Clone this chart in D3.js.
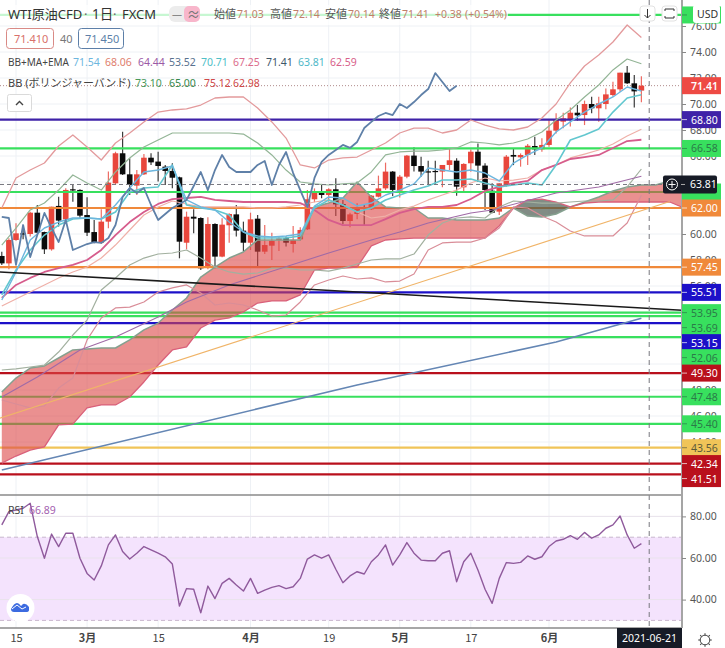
<!DOCTYPE html>
<html>
<head>
<meta charset="utf-8">
<script src="https://cdn.jsdelivr.net/npm/d3@7"></script>
<style>
  html, body { margin: 0; padding: 0; background: #fff; }
  svg { display: block; font-family: 'Noto Sans', 'Noto Sans CJK JP', sans-serif; }
</style>
</head>
<body>
<script>
// candles, bar -2 .. 88 (bar 0 = Feb 15)
const opens = [58.31,57.74,59.54,60.05,60.0,61.64,60.15,58.82,62.16,61.13,63.44,63.39,61.46,60.15,59.33,60.95,63.9,66.21,64.59,63.72,64.59,65.87,65.57,65.18,64.85,64.36,59.33,61.33,61.23,57.44,60.77,58.26,60.67,61.51,60.26,59.33,61.18,58.64,59.1,59.54,59.67,59.23,59.59,60.36,62.67,63.23,63.0,63.44,62.31,61.0,61.54,62.05,61.9,62.87,63.51,64.8,63.33,64.41,66.03,65.23,64.82,64.85,64.8,65.31,65.64,63.59,65.44,66.33,65.26,63.33,61.72,63.77,66.08,65.9,66.08,66.77,66.51,66.85,67.95,68.64,68.77,69.33,69.15,70.0,69.67,70.0,70.69,71.13,72.41,71.59,71.03];
const highs = [58.64,59.67,60.82,60.4,61.72,62.23,60.18,62.1,62.87,63.51,63.77,63.44,62.82,61.08,61.9,64.8,66.33,67.87,65.82,64.92,66.16,66.21,66.33,65.31,65.44,64.41,61.72,61.9,61.28,61.28,60.82,61.21,61.59,62.23,60.95,61.64,61.46,60.69,60.1,59.85,59.8,60.62,60.51,63.39,63.51,63.85,63.51,64.28,62.62,61.64,62.36,62.23,63.0,64.49,65.49,64.85,64.54,66.08,66.67,65.95,65.64,65.64,65.31,66.59,65.82,65.44,66.5,66.97,65.44,63.9,63.9,66.08,66.6,66.2,66.92,67.49,67.36,68.77,69.28,69.33,69.74,69.92,70.26,70.56,70.56,71.2,71.72,72.41,72.92,72.23,72.14];
const lows = [57.62,57.28,59.49,59.6,59.8,60.05,58.46,58.72,60.57,61.08,62.49,61.21,59.85,59.28,59.23,60.44,63.77,64.54,63.0,63.0,64.54,65.31,64.03,63.77,63.51,58.13,58.82,60.05,57.23,57.28,57.36,58.21,59.33,59.8,58.64,58.77,57.54,58.46,58.0,58.69,59.03,58.57,59.49,60.31,62.44,62.75,62.49,61.39,60.77,60.51,61.13,60.62,61.85,62.82,63.39,62.92,62.8,64.28,64.8,64.41,63.77,63.77,63.59,64.92,62.95,63.18,64.79,64.0,61.85,61.59,61.46,63.64,65.3,65.18,65.3,66.08,66.33,66.72,67.74,68.13,68.26,68.72,68.38,69.28,68.64,69.59,70.56,70.95,71.54,69.74,70.14];
const closes = [57.74,59.54,60.05,60.0,61.64,60.1,58.82,62.1,61.03,63.39,63.39,61.41,60.1,59.33,60.95,63.95,66.21,64.59,63.77,64.59,65.87,65.51,65.23,64.85,64.33,59.41,61.33,61.18,57.36,60.77,58.26,60.72,61.54,60.26,59.33,61.13,58.64,59.15,59.46,59.67,59.33,59.54,60.31,62.67,63.26,63.0,63.44,62.28,61.0,61.51,61.95,61.98,62.95,63.51,64.8,63.39,64.41,66.03,65.23,64.8,64.8,64.8,65.31,65.67,63.64,65.39,66.33,65.26,63.38,61.64,63.9,65.95,65.95,66.08,66.79,66.51,66.85,67.95,68.77,68.9,69.33,69.13,70.0,69.67,70.05,70.74,71.13,72.41,71.59,70.97,71.41];

// bands and averages, read every second bar from -2 to 88
const bbOuterUpper = [62.0,64.31,64.92,65.46,66.77,67.62,66.69,65.69,67.0,67.77,68.62,69.38,69.54,69.62,69.92,70.46,70.54,70.54,69.69,68.62,67.38,65.31,65.08,65.69,65.85,65.92,66.46,67.0,67.77,68.15,68.15,67.77,68.0,68.77,68.38,68.08,68.0,68.23,68.92,70.0,71.62,72.92,73.77,74.77,76.08,75.12];
const bbInnerUpper = [59.15,60.46,61.85,62.38,63.38,64.54,63.92,63.38,64.77,65.85,66.69,67.23,67.77,67.77,67.77,67.77,67.77,67.69,67.0,66.08,64.92,64.0,63.85,63.77,63.85,63.92,64.77,66.08,66.31,66.38,66.38,66.46,66.62,67.08,67.0,66.85,67.0,67.31,67.85,68.77,69.54,70.54,71.46,72.62,73.46,73.1];
const bbInnerLower = [49.54,49.62,49.77,49.92,50.92,52.23,53.38,55.69,56.62,57.62,58.15,58.46,58.54,58.77,58.15,57.46,57.08,56.92,57.0,57.38,57.38,57.23,57.23,57.15,57.38,57.69,58.0,58.08,58.08,58.46,59.92,60.85,61.23,61.31,61.23,62.08,62.54,62.46,62.38,62.38,62.46,62.54,62.54,62.62,63.62,65.0];
const bbOuterLower = [47.23,46.92,46.62,46.77,48.15,48.92,51.85,53.54,54.31,54.38,54.77,55.54,55.85,56.08,55.46,54.54,54.69,54.54,54.15,53.69,53.77,54.77,56.08,56.46,56.77,56.54,56.62,56.31,56.38,56.92,58.77,59.31,59.38,59.38,59.69,60.46,62.08,62.0,61.38,60.92,60.23,59.85,59.85,59.85,60.85,62.98];
const maPink = [55.08,56.08,56.62,57.08,57.38,57.62,58.0,58.77,59.92,60.92,61.69,62.31,62.69,62.77,62.85,62.62,62.54,62.46,62.46,62.46,62.46,62.38,61.85,61.08,60.69,60.69,60.69,61.15,61.62,61.92,62.08,62.08,62.23,62.69,63.31,63.62,63.92,64.08,64.92,65.31,65.77,65.92,66.08,66.62,67.15,67.25];
const maPeach = [54.46,55.0,55.54,56.08,56.62,57.08,57.46,58.15,59.15,60.31,61.46,62.08,62.54,62.31,62.08,62.08,62.08,62.08,62.0,62.0,62.08,62.23,62.46,62.62,62.23,61.69,61.23,61.38,61.85,62.15,62.62,63.0,63.38,63.92,64.31,64.08,64.15,64.31,64.92,65.31,65.85,66.15,66.46,66.92,67.54,68.06];
const emaFast = [54.92,57.08,59.54,60.46,60.92,61.23,61.23,61.15,62.23,63.54,64.77,64.92,65.23,62.62,62.08,61.85,60.92,60.15,59.85,59.77,59.85,60.0,62.15,62.85,62.77,62.15,62.38,63.0,63.38,63.85,65.08,64.92,64.77,64.92,64.69,64.08,65.46,66.08,66.62,67.85,68.62,69.38,70.0,70.54,71.31,71.0];
const emaSlow = [55.31,57.23,58.77,59.92,60.69,61.15,61.23,61.15,61.69,63.23,63.54,63.62,65.31,62.23,62.0,61.85,61.46,60.15,59.69,59.69,59.69,59.85,62.0,62.62,62.23,61.69,62.0,62.62,63.0,63.38,63.69,64.15,64.15,64.23,63.92,63.62,63.77,63.92,63.77,65.31,67.23,67.62,68.08,69.38,70.46,70.71];

// lagging line, bar -2 .. 62
const lagging = [61.31,61.23,57.62,60.69,58.23,59.92,61.62,60.46,59.38,61.08,58.77,59.0,59.23,59.38,59.31,59.69,60.69,62.85,63.54,63.15,63.54,62.23,61.08,61.54,62.0,62.31,62.62,63.69,64.77,63.38,64.92,66.08,65.15,64.77,64.77,64.77,65.31,65.62,63.77,65.31,66.31,64.69,63.38,62.08,64.31,65.54,66.08,66.46,66.85,66.62,67.08,68.15,68.62,69.08,69.31,69.15,70.0,69.69,70.15,70.69,71.15,72.38,71.69,71.0,71.41];

// cloud, every second bar from -2 to 94
const spanA = [47.85,48.92,49.69,49.85,50.46,51.08,51.15,51.23,51.23,51.85,52.62,53.15,54.15,55.08,56.69,57.46,58.15,58.62,59.54,59.54,59.54,59.54,62.08,62.38,62.77,64.0,62.85,62.08,62.0,62.0,61.23,61.23,61.08,61.08,61.08,61.23,62.0,61.38,61.31,61.54,62.08,62.46,62.85,63.31,63.62,63.77,63.77,64.08,64.46];
const spanB = [42.38,42.92,43.38,43.62,45.31,45.38,46.62,46.85,46.85,47.46,48.62,49.92,51.08,51.31,52.77,53.38,53.54,54.0,54.69,54.85,54.85,55.31,57.23,57.38,57.38,57.46,59.08,59.54,59.62,59.69,59.69,59.69,59.69,59.69,59.69,60.62,62.0,62.62,62.69,62.46,62.08,62.38,62.46,62.46,62.46,62.46,62.46,62.46,62.0];

// long average and drawn trend lines
const longMaBars = [-2,3,9,14,20,24,30,44,50,54,58,64,67,76,82,88];
const longMaValues = [47.46,49.0,51.08,52.08,53.62,54.77,56.08,58.54,59.54,60.15,60.85,61.62,61.85,63.15,63.62,64.44];
const longBlueBars = [-2,48,76,88];
const longBlueValues = [41.85,48.38,51.69,53.52];
const blackTrendBars = [-3,94];
const blackTrendValues = [57.1,54.13];
const goldTrendBars = [-3,92];
const goldTrendValues = [45.7,62.5];

// horizontal levels
const greenLevels = [76.85,66.58,63.23,53.95,53.69,52.06,47.48,45.40];
const blueLevels = [55.51,53.15];
const indigoLevels = [68.80];
const orangeLevels = [62.00,57.45];
const redLevels = [49.30,42.34,41.51];
const goldLevels = [43.56];

// rsi, bar -2 .. 88
const rsiValues = [75.9,82.3,83.1,83.9,86.3,70.3,59.9,71.5,65.5,71.9,71.9,59.9,52.6,49.4,56.2,66.3,71.1,63.1,59.5,62.3,65.5,63.9,62.3,60.6,57.1,36.9,45.3,45.0,33.7,46.5,40.5,47.8,50.2,47.0,44.1,50.2,43.0,44.6,45.9,46.7,45.3,46.2,50.2,59.5,61.5,59.9,61.5,54.6,48.1,51.4,53.4,52.3,58.2,61.5,66.3,56.6,61.5,67.4,62.3,59.0,58.7,58.7,62.3,63.5,48.6,58.2,62.3,54.2,45.0,38.2,50.2,57.8,57.4,57.9,61.0,59.4,60.6,65.5,68.2,69.0,70.7,69.0,72.3,69.5,71.1,74.3,75.9,80.2,71.1,64.7,66.89];

// axis labels
const priceTicks = [76,74,72,70,68,66,64,62,60,58,56,54,52,50,48,46,44];
const rsiTicks = [80,60,40];
const timeTickBars = [0,10,20,33,44,54,64,75];
const timeTickLabels = ['15','3月','15','4月','19','5月','17','6月'];

const width = 725, height = 648;
const axisX = 682, mainBottom = 495, rsiBottom = 628;
const numberFont = '10.5px';

const svg = d3.select('body').append('svg')
  .attr('width', width)
  .attr('height', height);

const x = d3.scaleLinear().domain([0, 75]).range([16, 549]);
const y = d3.scaleLinear().domain([70, 60]).range([104, 234]);
const yRsi = d3.scaleLinear().domain([60, 40]).range([558, 599.6]);

const everyBar = d3.range(-2, 89);
const evenBars = d3.range(-2, 89, 2);
const cloudBars = d3.range(-2, 95, 2);

svg.append('clipPath').attr('id', 'main-clip')
  .append('rect').attr('width', axisX).attr('height', mainBottom);
svg.append('clipPath').attr('id', 'rsi-clip')
  .append('rect').attr('y', mainBottom).attr('width', axisX).attr('height', rsiBottom - mainBottom);

const grid = svg.append('g').attr('stroke', '#eef1f5').attr('stroke-width', 1);
grid.selectAll('line.v').data(timeTickBars).join('line')
  .attr('x1', (d) => x(d)).attr('x2', (d) => x(d))
  .attr('y1', 0).attr('y2', rsiBottom);
grid.selectAll('line.h').data(priceTicks).join('line').attr('class', 'h')
  .attr('x1', 0).attr('x2', axisX)
  .attr('y1', (d) => y(d)).attr('y2', (d) => y(d));
grid.selectAll('line.r').data(rsiTicks).join('line').attr('class', 'r')
  .attr('x1', 0).attr('x2', axisX)
  .attr('y1', (d) => yRsi(d)).attr('y2', (d) => yRsi(d));

const main = svg.append('g').attr('clip-path', 'url(#main-clip)');

// last price dotted line
main.append('line')
  .attr('x1', 0).attr('x2', axisX)
  .attr('y1', y(71.41)).attr('y2', y(71.41))
  .attr('stroke', '#b08a8a').attr('stroke-dasharray', '1,2');

// candles
const candleColor = (i) => (closes[i] >= opens[i] ? '#e8463c' : '#0b0b0b');
const candles = main.append('g');
candles.selectAll('line').data(everyBar).join('line')
  .attr('x1', (d) => x(d)).attr('x2', (d) => x(d))
  .attr('y1', (d, i) => y(highs[i])).attr('y2', (d, i) => y(lows[i]))
  .attr('stroke', (d, i) => candleColor(i))
  .attr('stroke-opacity', 0.8)
  .attr('stroke-width', 1.2);
candles.selectAll('rect').data(everyBar).join('rect')
  .attr('x', (d) => x(d) - 2.8)
  .attr('width', 5.6)
  .attr('y', (d, i) => y(Math.max(opens[i], closes[i])))
  .attr('height', (d, i) => Math.max(1.2, Math.abs(y(opens[i]) - y(closes[i]))))
  .attr('fill', (d, i) => candleColor(i));

// horizontal levels
const levelGroups = [
  { levels: greenLevels,  color: '#38e05e', label: '#2b7a48', width: 2.2 },
  { levels: blueLevels,   color: '#1c10c8', label: '#ffffff', width: 2.2 },
  { levels: indigoLevels, color: '#3f22a8', label: '#ffffff', width: 2.2 },
  { levels: orangeLevels, color: '#f0893a', label: '#ffffff', width: 2.2 },
  { levels: redLevels,    color: '#b9101c', label: '#ffffff', width: 2.2 },
  { levels: goldLevels,   color: '#f0c458', label: '#5a5a3a', width: 2.2 }
];
const allLevels = levelGroups
  .flatMap((g) => g.levels.map((value) => ({ value, ...g })))
  .sort((a, b) => d3.descending(a.value, b.value));

// tag positions, pushed down when they would overlap
let lastY = -100;
allLevels.forEach((d) => {
  d.labelY = Math.max(y(d.value), lastY + 15);
  lastY = d.labelY;
});

main.selectAll('line.level').data(allLevels).join('line').attr('class', 'level')
  .attr('x1', 0).attr('x2', axisX)
  .attr('y1', (d) => y(d.value)).attr('y2', (d) => y(d.value))
  .attr('stroke', (d) => d.color)
  .attr('stroke-width', (d) => d.width);

// cloud, red where span A is on top, grey where the spans are crossed
const cloud = d3.area()
  .x((d) => x(cloudBars[d]))
  .y0((d) => y(spanB[d]))
  .y1((d) => y(spanA[d]));
const allIdx = d3.range(cloudBars.length);
const redA = allIdx.filter((d) => cloudBars[d] <= 70);
const grey = allIdx.filter((d) => cloudBars[d] >= 70 && cloudBars[d] <= 78);
const redB = allIdx.filter((d) => cloudBars[d] >= 78);
[redA, redB].forEach((part) => {
  main.append('path').attr('d', cloud(part)).attr('fill', 'rgba(220,70,70,0.6)');
});
main.append('path').attr('d', cloud(grey)).attr('fill', 'rgba(70,85,75,0.68)');

const drawLine = (parent, bars, values, color, w, scale = y) => {
  const line = d3.line().x((d) => x(bars[d])).y((d) => scale(values[d]));
  parent.append('path')
    .attr('d', line(d3.range(bars.length)))
    .attr('fill', 'none')
    .attr('stroke', color)
    .attr('stroke-width', w)
    .attr('stroke-linejoin', 'round');
};

// cloud edges
drawLine(main, cloudBars, spanA, '#85a08f', 1.5);
drawLine(main, cloudBars, spanB, '#d9607a', 1.3);

// indicators
drawLine(main, evenBars, bbOuterUpper, '#e39a9c', 1.3);
drawLine(main, evenBars, bbOuterLower, '#d98d98', 1.2);
drawLine(main, evenBars, bbInnerUpper, '#93b596', 1.2);
drawLine(main, evenBars, bbInnerLower, '#a2b09f', 1.2);
drawLine(main, evenBars, maPeach, '#efb0a8', 1.2);
drawLine(main, evenBars, maPink, '#d65c8c', 1.8);
drawLine(main, evenBars, emaSlow, '#62c7cf', 1.6);
drawLine(main, evenBars, emaFast, '#6db6de', 1.4);
drawLine(main, d3.range(-2, 63), lagging, '#5f80a8', 1.8);
drawLine(main, longMaBars, longMaValues, '#a06aa6', 1.1);
drawLine(main, longBlueBars, longBlueValues, '#6486b4', 1.6);
drawLine(main, goldTrendBars, goldTrendValues, '#f0b468', 1.1);
drawLine(main, blackTrendBars, blackTrendValues, '#1a1a1a', 1.6);

// crosshair
svg.append('line')
  .attr('x1', 0).attr('x2', axisX)
  .attr('y1', y(63.81)).attr('y2', y(63.81))
  .attr('stroke', '#77777f').attr('stroke-dasharray', '4,3');

// rsi pane
const rsi = svg.append('g').attr('clip-path', 'url(#rsi-clip)');
rsi.append('rect')
  .attr('x', 0).attr('width', axisX)
  .attr('y', yRsi(70)).attr('height', yRsi(30) - yRsi(70))
  .attr('fill', '#f4e3fd');
rsi.selectAll('line.band').data([70, 30]).join('line').attr('class', 'band')
  .attr('x1', 0).attr('x2', axisX)
  .attr('y1', (d) => yRsi(d)).attr('y2', (d) => yRsi(d))
  .attr('stroke', '#c9b7cd').attr('stroke-dasharray', '4,3');
rsi.selectAll('line.inner').data(rsiTicks).join('line').attr('class', 'inner')
  .attr('x1', 0).attr('x2', axisX)
  .attr('y1', (d) => yRsi(d)).attr('y2', (d) => yRsi(d))
  .attr('stroke', '#e9e3ec');
drawLine(rsi, everyBar, rsiValues, '#8f5a9c', 1.4, yRsi);

svg.append('line')
  .attr('x1', x(89.1)).attr('x2', x(89.1))
  .attr('y1', 0).attr('y2', rsiBottom)
  .attr('stroke', '#77777f').attr('stroke-dasharray', '5,4');

// pane borders
svg.append('line').attr('x1', 0).attr('x2', axisX).attr('y1', mainBottom).attr('y2', mainBottom)
  .attr('stroke', '#8a8a8a').attr('stroke-width', 1.5);
svg.append('line').attr('x1', 0).attr('x2', axisX).attr('y1', rsiBottom).attr('y2', rsiBottom)
  .attr('stroke', '#8a8a8a').attr('stroke-width', 1.5);
svg.append('line').attr('x1', axisX).attr('x2', axisX).attr('y1', 0).attr('y2', rsiBottom)
  .attr('stroke', '#a5a5a5').attr('stroke-width', 2);

// price axes, ticks fully under a tag are left out, the others peek out behind it
const tagSpots = allLevels.map((d) => d.labelY).concat([y(63.81), y(71.41)]);
const tickVisible = (tick) => !tagSpots.some((spot) => Math.abs(spot - y(tick)) < 5);
const styleAxis = (g) => {
  g.select('.domain').remove();
  g.selectAll('.tick line').attr('stroke', '#888');
  g.selectAll('.tick text')
    .attr('fill', '#555')
    .style('font-size', numberFont)
    .style('font-family', "'Noto Sans', sans-serif");
};
svg.append('g')
  .attr('transform', `translate(${axisX},0)`)
  .call(d3.axisRight(y).tickValues(priceTicks.filter(tickVisible)).tickFormat(d3.format('.2f')).tickSize(4).tickPadding(4))
  .call(styleAxis);
svg.append('g')
  .attr('transform', `translate(${axisX},0)`)
  .call(d3.axisRight(yRsi).tickValues(rsiTicks).tickFormat(d3.format('.2f')).tickSize(4).tickPadding(4))
  .call(styleAxis);

// time axis
svg.append('g')
  .attr('transform', `translate(0,${rsiBottom})`)
  .call(d3.axisBottom(x).tickValues(timeTickBars)
    .tickFormat((d, i) => timeTickLabels[i]).tickSize(0).tickPadding(6))
  .call(styleAxis)
  .call((g) => g.selectAll('.tick text')
    .attr('fill', '#444')
    .style('font-size', '11px')
    .style('font-weight', (d, i) => (timeTickLabels[i].includes('月') ? 700 : 400))
    .style('font-family', "'Noto Sans CJK JP', sans-serif"));

// level tags; the ones under the currency box and the crosshair tag keep only their colour
const hiddenLabels = [76.85, 63.23];
const labels = svg.append('g').selectAll('g').data(allLevels).join('g')
  .attr('transform', (d) => `translate(${axisX},${d.labelY})`);
labels.append('rect')
  .attr('x', 0).attr('y', -8.5).attr('width', 39).attr('height', 17)
  .attr('fill', (d) => d.color);
labels.append('line')
  .attr('x1', 0).attr('x2', 5)
  .attr('stroke', (d) => d.label).attr('stroke-opacity', 0.7);
labels.filter((d) => !hiddenLabels.includes(d.value)).append('text')
  .attr('x', 9).attr('y', 4)
  .attr('fill', (d) => d.label)
  .style('font-size', numberFont)
  .text((d) => d3.format('.2f')(d.value));

// last price tag
const lastTag = svg.append('g').attr('transform', `translate(${axisX},${y(71.41)})`);
lastTag.append('rect').attr('y', -8.5).attr('width', 39).attr('height', 17).attr('fill', '#ee4a44');
lastTag.append('text').attr('x', 9).attr('y', 4).attr('fill', '#fff')
  .style('font-size', numberFont).style('font-weight', 600).text('71.41');

// crosshair price tag
const crossTag = svg.append('g').attr('transform', `translate(663,${y(63.81)})`);
crossTag.append('rect').attr('y', -9).attr('width', 54).attr('height', 18).attr('rx', 2).attr('fill', '#171b26');
crossTag.append('circle').attr('cx', 9).attr('r', 5.5).attr('fill', 'none').attr('stroke', '#fff');
crossTag.append('path').attr('d', 'M5.5,0H12.5M9,-3.5V3.5').attr('stroke', '#fff');
crossTag.append('line').attr('x1', 18).attr('x2', 22).attr('stroke', '#aaa');
crossTag.append('text').attr('x', 27).attr('y', 4).attr('fill', '#fff')
  .style('font-size', numberFont).text('63.81');

// crosshair date tag
const dateTag = svg.append('g').attr('transform', `translate(617,${rsiBottom})`);
dateTag.append('rect').attr('width', 65).attr('height', 20).attr('fill', '#171b26');
dateTag.append('text').attr('x', 32.5).attr('y', 14).attr('text-anchor', 'middle')
  .attr('fill', '#fff').style('font-size', '10.5px').text('2021-06-21');

// header texts
const addText = (tx, ty, str, color, size) => svg.append('text')
  .attr('x', tx).attr('y', ty).attr('fill', color)
  .style('font-size', `${size}px`).text(str);

// the title row sits on a pale veil over the green level line
svg.append('rect').attr('x', 0).attr('y', 5).attr('width', 508).attr('height', 20)
  .attr('fill', '#fff').attr('fill-opacity', 0.72);

addText(8, 19, 'WTI原油CFD', '#333', 13);
addText(84, 19, '·', '#666', 13);
addText(92, 19, '1日', '#333', 13.5);
addText(113, 19, '·', '#666', 13);
addText(122, 19, 'FXCM', '#333', 13);

svg.append('rect').attr('x', 169).attr('y', 6).attr('width', 31).attr('height', 16).attr('rx', 6).attr('fill', '#ececec');
svg.append('rect').attr('x', 184).attr('y', 6).attr('width', 16).attr('height', 16).attr('rx', 5).attr('fill', '#f8b6cb');
addText(172, 18, '—', '#888', 10);
addText(187, 19, '≈', '#777', 13);

const ohlcColor = '#c07f6a';
addText(214, 18, '始値', '#555', 11);
addText(237, 18, '71.03', ohlcColor, 10.5);
addText(270, 18, '高値', '#555', 11);
addText(293, 18, '72.14', ohlcColor, 10.5);
addText(325, 18, '安値', '#555', 11);
addText(348, 18, '70.14', ohlcColor, 10.5);
addText(379, 18, '終値', '#555', 11);
addText(402, 18, '71.41', ohlcColor, 10.5);
addText(435, 18, '+0.38', ohlcColor, 10.5);
addText(465, 18, '(+0.54%)', ohlcColor, 10.5);

// sell and buy boxes
svg.append('rect').attr('x', 6.5).attr('y', 28.5).attr('width', 47).attr('height', 20).attr('rx', 3)
  .attr('fill', '#fff').attr('stroke', '#d98a86');
addText(14, 43, '71.410', '#d9706a', 11);
addText(60, 43, '40', '#777', 11);
svg.append('rect').attr('x', 78.5).attr('y', 28.5).attr('width', 45).attr('height', 20).attr('rx', 3)
  .attr('fill', '#fff').attr('stroke', '#5d7fa8');
addText(85, 43, '71.450', '#5d7fa8', 11);

// indicator legends
addText(8, 66, 'BB+MA+EMA', '#444', 10);
const legendOne = [
  ['71.54', '#6db6de', 73], ['68.06', '#e0806e', 105], ['64.44', '#9b59a6', 138],
  ['53.52', '#58718f', 169], ['70.71', '#4fc0c8', 201], ['67.25', '#dc6c8c', 233],
  ['71.41', '#3d566a', 266], ['63.81', '#4fb8c8', 298], ['62.59', '#d8608a', 330]
];
legendOne.forEach(([t, c, tx]) => addText(tx, 66, t, c, 10.5));

addText(8, 87, 'BB (ボリンジャーバンド)', '#444', 11);
const legendTwo = [
  ['73.10', '#4a9a5a', 135], ['65.00', '#35884a', 169],
  ['75.12', '#d04a4a', 204], ['62.98', '#d04a4a', 233]
];
legendTwo.forEach(([t, c, tx]) => addText(tx, 87, t, c, 10.5));

svg.append('rect').attr('x', 7.5).attr('y', 94.5).attr('width', 24).attr('height', 17).attr('rx', 2)
  .attr('fill', '#fff').attr('stroke', '#dadada');
svg.append('path').attr('d', 'M16,105L19.5,101.5L23,105').attr('fill', 'none').attr('stroke', '#444').attr('stroke-width', 1.4);

addText(8, 514, 'RSI', '#444', 10.5);
addText(29, 514, '66.89', '#a45fb0', 10.5);

// chart buttons
[640, 662].forEach((bx) => {
  svg.append('rect').attr('x', bx).attr('y', 6).attr('width', 15).attr('height', 15).attr('rx', 3)
    .attr('fill', '#fff').attr('stroke', '#e2e2e2');
});
svg.append('path').attr('d', 'M647.5,9V18M644.5,15L647.5,18L650.5,15').attr('fill', 'none').attr('stroke', '#333');
svg.append('path').attr('d', 'M665,11V9H674V11M665,16V18H674V16').attr('fill', 'none').attr('stroke', '#333');

// currency box
svg.append('rect').attr('x', 693).attr('y', 5).attr('width', 27).attr('height', 18).attr('rx', 3).attr('fill', '#fff');
addText(697, 18, 'USD', '#333', 10.5);

// logo
svg.append('circle').attr('cx', 20.5).attr('cy', 608).attr('r', 14).attr('fill', '#fff');
svg.append('path')
  .attr('d', 'M11,609Q14,603 17,603Q19,603 21,606L23,604Q26,603 29,607L29,610Q29,612 26,612L14,612Q11,612 11,609Z')
  .attr('fill', '#3c6be0');
svg.append('path').attr('d', 'M12,609L17,605L22,609L26,607').attr('fill', 'none').attr('stroke', '#fff');

// settings icon
const gear = svg.append('g').attr('transform', 'translate(705,640)').attr('stroke', '#444').attr('fill', 'none');
gear.append('circle').attr('r', 4.8);
gear.selectAll('line').data(d3.range(0, 360, 45)).join('line')
  .attr('y1', -4.8).attr('y2', -6.8)
  .attr('transform', (d) => `rotate(${d})`);
</script>
</body>
</html>
